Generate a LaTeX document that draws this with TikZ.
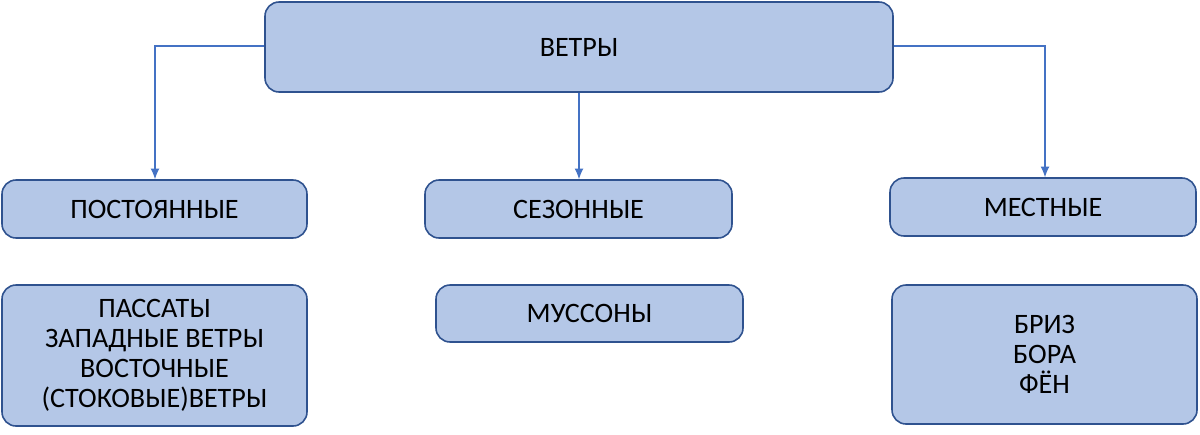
\documentclass[tikz,border=0pt]{standalone}
\usepackage{fontspec}
\setmainfont{Carlito}
\usetikzlibrary{positioning,arrows.meta}
\definecolor{boxfill}{HTML}{B4C7E7}
\definecolor{boxline}{HTML}{2F528F}
\definecolor{arrowline}{HTML}{4472C4}
\begin{document}
\begin{tikzpicture}[
    box/.style={draw=boxline,fill=boxfill,rounded corners=8pt,line width=0.9pt,
      align=center,font=\fontsize{16}{17}\selectfont,inner sep=0pt},
    link/.style={draw=arrowline,line width=0.6pt,-{Latex[length=6pt,width=5pt]}}]
  \useasboundingbox (0,0) rectangle (24,-8.68);
  % top
  \node [box,minimum width=12.56cm,minimum height=1.8cm] (winds) at (11.58,-0.94) {ВЕТРЫ};
  % second row
  \node [box,minimum width=6.1cm,minimum height=1.16cm] (const) at (3.09,-4.18) {ПОСТОЯННЫЕ};
  \node [box,minimum width=6.14cm,minimum height=1.16cm] (season) at (11.57,-4.18) {СЕЗОННЫЕ};
  \node [box,minimum width=6.12cm,minimum height=1.16cm] (local) at (20.86,-4.14) {МЕСТНЫЕ};
  % third row
  \node [box,minimum width=6.1cm,minimum height=2.82cm] (constlist) at (3.09,-7.11)
    {ПАССАТЫ\\ЗАПАДНЫЕ ВЕТРЫ\\ВОСТОЧНЫЕ\\(СТОКОВЫЕ)ВЕТРЫ};
  \node [box,minimum width=6.14cm,minimum height=1.14cm] (monsoon) at (11.79,-6.27) {МУССОНЫ};
  \node [box,minimum width=6.1cm,minimum height=2.78cm] (locallist) at (20.89,-7.09)
    {БРИЗ\\БОРА\\ФЁН};
  % connectors
  \draw [link] (winds.west |- 0,-0.92) -| (const.north -| 3.1,0);
  \draw [link] (winds.south -| 11.58,0) -- (season.north -| 11.58,0);
  \draw [link] (winds.east |- 0,-0.92) -| (local.north -| 20.9,0);
\end{tikzpicture}
\end{document}
